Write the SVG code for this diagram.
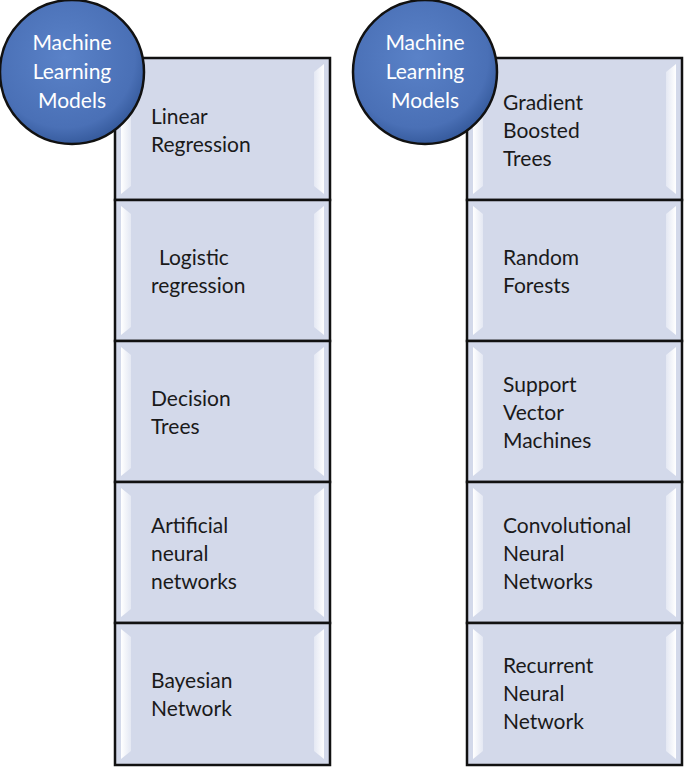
<svg xmlns="http://www.w3.org/2000/svg" width="685" height="769" viewBox="0 0 685 769">
<defs>
<radialGradient id="ball" cx="0.45" cy="0.4" r="0.65">
<stop offset="0" stop-color="#5a82c8"/><stop offset="0.75" stop-color="#4a70b6"/><stop offset="1" stop-color="#2f5394"/>
</radialGradient>
<linearGradient id="sideL" x1="0" x2="1"><stop offset="0" stop-color="#ffffff"/><stop offset="1" stop-color="#e4e8f3"/></linearGradient>
<linearGradient id="sideR" x1="1" x2="0"><stop offset="0" stop-color="#ffffff"/><stop offset="1" stop-color="#e4e8f3"/></linearGradient>
</defs>
<style>
.box{fill:#d3d9ea;stroke:#111;stroke-width:2.5}
.bev{fill:#e6eaf4}
.t{font-family:Lato,"Open Sans",sans-serif;font-size:21px;fill:#1a1a1a}
.c{font-family:Lato,"Open Sans",sans-serif;font-size:21px;fill:#fff;text-anchor:middle}
.ball{fill:url(#ball);stroke:#111;stroke-width:2.5}
</style>
<g id="left-column">
<g id="l1"><rect class="box" x="115" y="58" width="215" height="142"/><path d="M121 64 L131 72 L131 186 L121 194Z" fill="url(#sideL)"/><path d="M324 64 L314 72 L314 186 L324 194Z" fill="url(#sideR)"/><text class="t" x="151" y="124">Linear</text><text class="t" x="151" y="152">Regression</text></g>
<g id="l2"><rect class="box" x="115" y="200" width="215" height="141"/><path d="M121 206 L131 214 L131 327 L121 335Z" fill="url(#sideL)"/><path d="M324 206 L314 214 L314 327 L324 335Z" fill="url(#sideR)"/><text class="t" x="159" y="265">Logistic</text><text class="t" x="151" y="293">regression</text></g>
<g id="l3"><rect class="box" x="115" y="341" width="215" height="141"/><path d="M121 347 L131 355 L131 468 L121 476Z" fill="url(#sideL)"/><path d="M324 347 L314 355 L314 468 L324 476Z" fill="url(#sideR)"/><text class="t" x="151" y="406">Decision</text><text class="t" x="151" y="434">Trees</text></g>
<g id="l4"><rect class="box" x="115" y="482" width="215" height="141"/><path d="M121 488 L131 496 L131 609 L121 617Z" fill="url(#sideL)"/><path d="M324 488 L314 496 L314 609 L324 617Z" fill="url(#sideR)"/><text class="t" x="151" y="533">Artificial</text><text class="t" x="151" y="561">neural</text><text class="t" x="151" y="589">networks</text></g>
<g id="l5"><rect class="box" x="115" y="623" width="215" height="142"/><path d="M121 629 L131 637 L131 751 L121 759Z" fill="url(#sideL)"/><path d="M324 629 L314 637 L314 751 L324 759Z" fill="url(#sideR)"/><text class="t" x="151" y="688">Bayesian</text><text class="t" x="151" y="716">Network</text></g>
<g id="lc"><circle class="ball" cx="72" cy="72" r="72"/><text class="c" x="72" y="50">Machine</text><text class="c" x="72" y="79">Learning</text><text class="c" x="72" y="108">Models</text></g>
</g>
<g id="right-column">
<g id="r1"><rect class="box" x="467" y="58" width="215" height="142"/><path d="M473 64 L483 72 L483 186 L473 194Z" fill="url(#sideL)"/><path d="M676 64 L666 72 L666 186 L676 194Z" fill="url(#sideR)"/><text class="t" x="503" y="110">Gradient</text><text class="t" x="503" y="138">Boosted</text><text class="t" x="503" y="166">Trees</text></g>
<g id="r2"><rect class="box" x="467" y="200" width="215" height="141"/><path d="M473 206 L483 214 L483 327 L473 335Z" fill="url(#sideL)"/><path d="M676 206 L666 214 L666 327 L676 335Z" fill="url(#sideR)"/><text class="t" x="503" y="265">Random</text><text class="t" x="503" y="293">Forests</text></g>
<g id="r3"><rect class="box" x="467" y="341" width="215" height="141"/><path d="M473 347 L483 355 L483 468 L473 476Z" fill="url(#sideL)"/><path d="M676 347 L666 355 L666 468 L676 476Z" fill="url(#sideR)"/><text class="t" x="503" y="392">Support</text><text class="t" x="503" y="420">Vector</text><text class="t" x="503" y="448">Machines</text></g>
<g id="r4"><rect class="box" x="467" y="482" width="215" height="141"/><path d="M473 488 L483 496 L483 609 L473 617Z" fill="url(#sideL)"/><path d="M676 488 L666 496 L666 609 L676 617Z" fill="url(#sideR)"/><text class="t" x="503" y="533">Convolutional</text><text class="t" x="503" y="561">Neural</text><text class="t" x="503" y="589">Networks</text></g>
<g id="r5"><rect class="box" x="467" y="623" width="215" height="142"/><path d="M473 629 L483 637 L483 751 L473 759Z" fill="url(#sideL)"/><path d="M676 629 L666 637 L666 751 L676 759Z" fill="url(#sideR)"/><text class="t" x="503" y="673">Recurrent</text><text class="t" x="503" y="701">Neural</text><text class="t" x="503" y="729">Network</text></g>
<g id="rc"><circle class="ball" cx="425" cy="72" r="72"/><text class="c" x="425" y="50">Machine</text><text class="c" x="425" y="79">Learning</text><text class="c" x="425" y="108">Models</text></g>
</g>
<g id="connectors"/>
</svg>
